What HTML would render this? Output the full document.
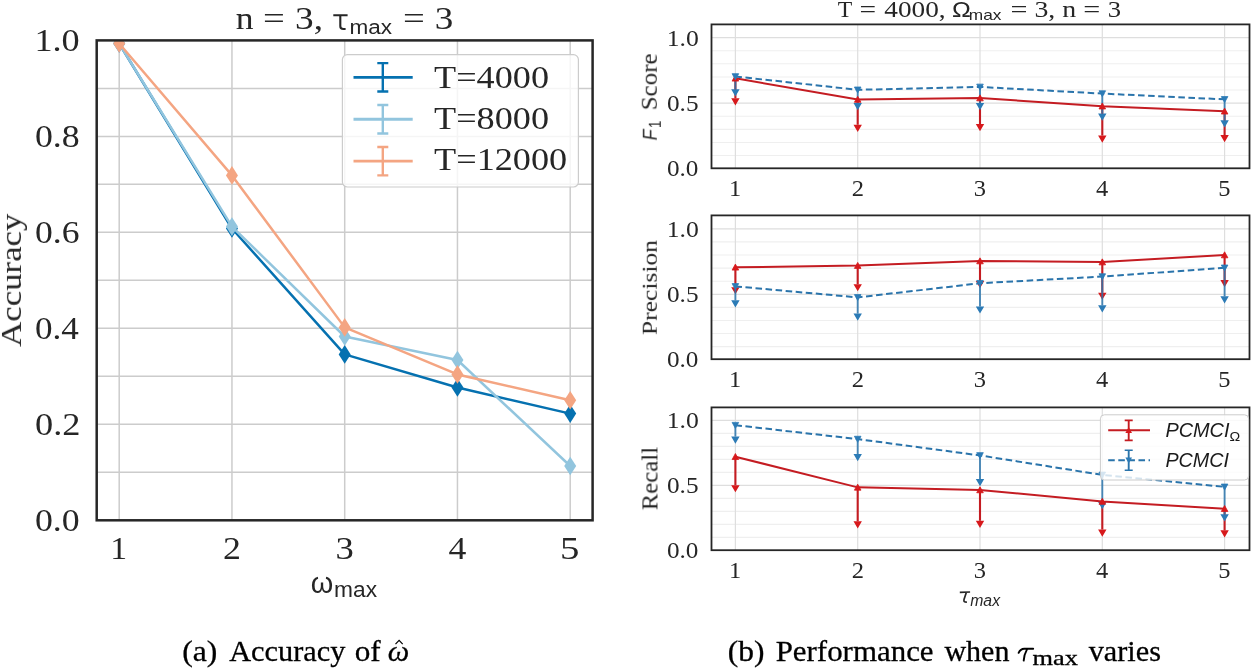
<!DOCTYPE html><html><head><meta charset="utf-8"><style>html,body{margin:0;padding:0;background:#fff;}svg{display:block;} text{will-change:transform;}</style></head><body>
<svg width="1254" height="669" viewBox="0 0 1254 669">
<rect width="1254" height="669" fill="#ffffff"/>
<defs><clipPath id="cl"><rect x="96.7" y="40.4" width="495.90000000000003" height="479.9"/></clipPath>
</defs>
<path d="M96.7,472.31H592.6M96.7,424.32H592.6M96.7,376.33H592.6M96.7,328.34H592.6M96.7,280.35H592.6M96.7,232.36H592.6M96.7,184.37H592.6M96.7,136.38H592.6M96.7,88.39H592.6M119.20,40.4V520.3M231.95,40.4V520.3M344.70,40.4V520.3M457.45,40.4V520.3M570.20,40.4V520.3" stroke="#cccccc" stroke-width="1.5" fill="none"/>
<g clip-path="url(#cl)">
<polyline points="119.20,43.52 231.95,228.52 344.70,354.40 457.45,387.51 570.20,413.62" fill="none" stroke="#0571b0" stroke-width="2.5" stroke-linejoin="round"/>
<path d="M119.20,34.22L125.20,43.52L119.20,52.82L113.20,43.52Z" fill="#0571b0"/>
<path d="M231.95,219.22L237.95,228.52L231.95,237.82L225.95,228.52Z" fill="#0571b0"/>
<path d="M344.70,345.10L350.70,354.40L344.70,363.70L338.70,354.40Z" fill="#0571b0"/>
<path d="M457.45,378.21L463.45,387.51L457.45,396.81L451.45,387.51Z" fill="#0571b0"/>
<path d="M570.20,404.32L576.20,413.62L570.20,422.92L564.20,413.62Z" fill="#0571b0"/>
<polyline points="119.20,43.52 231.95,226.60 344.70,336.50 457.45,360.01 570.20,466.02" fill="none" stroke="#92c5de" stroke-width="2.5" stroke-linejoin="round"/>
<path d="M119.20,34.22L125.20,43.52L119.20,52.82L113.20,43.52Z" fill="#92c5de"/>
<path d="M231.95,217.30L237.95,226.60L231.95,235.90L225.95,226.60Z" fill="#92c5de"/>
<path d="M344.70,327.20L350.70,336.50L344.70,345.80L338.70,336.50Z" fill="#92c5de"/>
<path d="M457.45,350.71L463.45,360.01L457.45,369.31L451.45,360.01Z" fill="#92c5de"/>
<path d="M570.20,456.72L576.20,466.02L570.20,475.32L564.20,466.02Z" fill="#92c5de"/>
<polyline points="119.20,43.52 231.95,175.40 344.70,327.38 457.45,374.41 570.20,400.18" fill="none" stroke="#f4a582" stroke-width="2.5" stroke-linejoin="round"/>
<path d="M119.20,34.22L125.20,43.52L119.20,52.82L113.20,43.52Z" fill="#f4a582"/>
<path d="M231.95,166.10L237.95,175.40L231.95,184.70L225.95,175.40Z" fill="#f4a582"/>
<path d="M344.70,318.08L350.70,327.38L344.70,336.68L338.70,327.38Z" fill="#f4a582"/>
<path d="M457.45,365.11L463.45,374.41L457.45,383.71L451.45,374.41Z" fill="#f4a582"/>
<path d="M570.20,390.88L576.20,400.18L570.20,409.48L564.20,400.18Z" fill="#f4a582"/>
</g>
<rect x="96.7" y="40.4" width="495.90" height="479.90" fill="none" stroke="#262626" stroke-width="2.5"/>
<rect x="342.4" y="54.6" width="236" height="132.4" rx="5" ry="5" fill="#ffffff" fill-opacity="0.8" stroke="#cccccc" stroke-width="1.2"/>
<path d="M353.5,77.30H412.7" stroke="#0571b0" stroke-width="2.8" fill="none"/>
<path d="M382.8,63.10V91.50M377.3,63.10H388.3M377.3,91.50H388.3" stroke="#0571b0" stroke-width="2.4" fill="none"/>
<path d="M353.5,119.25H412.7" stroke="#92c5de" stroke-width="2.8" fill="none"/>
<path d="M382.8,105.05V133.45M377.3,105.05H388.3M377.3,133.45H388.3" stroke="#92c5de" stroke-width="2.4" fill="none"/>
<path d="M353.5,161.20H412.7" stroke="#f4a582" stroke-width="2.8" fill="none"/>
<path d="M382.8,147.00V175.40M377.3,147.00H388.3M377.3,175.40H388.3" stroke="#f4a582" stroke-width="2.4" fill="none"/>
<text transform="translate(434.07,87.70) scale(1.1641,1)" style="font-family:'Liberation Serif', serif;font-size:31.11px" fill="#262626">T=4000</text>
<text transform="translate(434.07,129.00) scale(1.1641,1)" style="font-family:'Liberation Serif', serif;font-size:31.11px" fill="#262626">T=8000</text>
<text transform="translate(434.07,170.30) scale(1.1650,1)" style="font-family:'Liberation Serif', serif;font-size:31.11px" fill="#262626">T=12000</text>
<text transform="translate(34.96,530.83) scale(1.1332,1)" style="font-family:'Liberation Serif', serif;font-size:31.62px" fill="#262626">0.0</text>
<text transform="translate(34.94,434.85) scale(1.1504,1)" style="font-family:'Liberation Serif', serif;font-size:31.62px" fill="#262626">0.2</text>
<text transform="translate(34.98,338.87) scale(1.1119,1)" style="font-family:'Liberation Serif', serif;font-size:31.62px" fill="#262626">0.4</text>
<text transform="translate(34.96,242.89) scale(1.1260,1)" style="font-family:'Liberation Serif', serif;font-size:31.62px" fill="#262626">0.6</text>
<text transform="translate(34.96,146.91) scale(1.1332,1)" style="font-family:'Liberation Serif', serif;font-size:31.62px" fill="#262626">0.8</text>
<text transform="translate(34.43,50.93) scale(1.1470,1)" style="font-family:'Liberation Serif', serif;font-size:31.62px" fill="#262626">1.0</text>
<text transform="translate(110.25,559.00) scale(1.0560,1)" style="font-family:'Liberation Serif', serif;font-size:31.97px" fill="#262626">1</text>
<text transform="translate(222.88,559.00) scale(1.1233,1)" style="font-family:'Liberation Serif', serif;font-size:31.85px" fill="#262626">2</text>
<text transform="translate(335.56,558.69) scale(1.1667,1)" style="font-family:'Liberation Serif', serif;font-size:31.38px" fill="#262626">3</text>
<text transform="translate(448.49,559.00) scale(1.1124,1)" style="font-family:'Liberation Serif', serif;font-size:32.09px" fill="#262626">4</text>
<text transform="translate(559.97,558.68) scale(1.2215,1)" style="font-family:'Liberation Serif', serif;font-size:31.73px" fill="#262626">5</text>
<text transform="translate(235.70,29.10) scale(1.1253,1)" style="font-family:'Liberation Serif', serif;font-size:31.70px" fill="#262626">n</text>
<text transform="translate(263.06,29.10) scale(1.2210,1)" style="font-family:'Liberation Serif', serif;font-size:31.70px" fill="#262626">=</text>
<text transform="translate(295.03,29.10) scale(1.1779,1)" style="font-family:'Liberation Serif', serif;font-size:31.70px" fill="#262626">3,</text>
<path d="M333.3,15.3H347.6M340.3,15.3V26.3Q340.3,29 343.4,29H345.6" stroke="#262626" stroke-width="2.1" fill="none"/>
<text transform="translate(349.48,33.70) scale(1.1322,1)" style="font-family:'Liberation Sans', sans-serif;font-size:19.91px" fill="#262626">max</text>
<text transform="translate(403.06,29.10) scale(1.2210,1)" style="font-family:'Liberation Serif', serif;font-size:31.70px" fill="#262626">=</text>
<text transform="translate(434.74,29.10) scale(1.1699,1)" style="font-family:'Liberation Serif', serif;font-size:31.70px" fill="#262626">3</text>
<text transform="translate(20.96,346.75) rotate(-90) scale(1.1435,1)" style="font-family:'Liberation Serif', serif;font-size:30.40px" fill="#262626">Accuracy</text>
<text transform="translate(310.75,592.91) scale(0.9813,1)" style="font-family:'Liberation Sans', sans-serif;font-size:29.41px" fill="#262626">ω</text>
<text transform="translate(334.06,597.29) scale(1.0743,1)" style="font-family:'Liberation Sans', sans-serif;font-size:21.19px" fill="#262626">max</text>
<path d="M711.5,155.54H1249.5M711.5,142.44H1249.5M711.5,129.33H1249.5M711.5,116.23H1249.5M711.5,90.03H1249.5M711.5,76.93H1249.5M711.5,63.82H1249.5M711.5,50.72H1249.5" stroke="#efefef" stroke-width="1.1" fill="none"/>
<path d="M711.5,103.13H1249.5M711.5,37.62H1249.5M735.40,24.4V168.3M857.70,24.4V168.3M980.00,24.4V168.3M1102.30,24.4V168.3M1224.60,24.4V168.3" stroke="#dedede" stroke-width="1.2" fill="none"/>
<path d="M735.40,78.30V98.18M857.70,99.49V124.87M980.00,98.05V123.95M1102.30,106.16V135.46M1224.60,111.26V134.94" stroke="#c41c22" stroke-width="2.1" stroke-opacity="1" fill="none"/>
<path d="M731.20,98.18H739.60L735.40,105.38ZM853.50,124.87H861.90L857.70,132.07ZM975.80,123.95H984.20L980.00,131.15ZM1098.10,135.46H1106.50L1102.30,142.66ZM1220.40,134.94H1228.80L1224.60,142.14Z" fill="#d7191c"/>
<path d="M735.40,76.47V89.29M857.70,89.81V103.02M980.00,86.93V103.02M1102.30,93.60V113.49M1224.60,99.36V120.29" stroke="#2a74ab" stroke-width="1.9" stroke-opacity="0.85" fill="none"/>
<path d="M731.20,89.29H739.60L735.40,96.49ZM853.50,103.02H861.90L857.70,110.22ZM975.80,103.02H984.20L980.00,110.22ZM1098.10,113.49H1106.50L1102.30,120.69ZM1220.40,120.29H1228.80L1224.60,127.49Z" fill="#2c7bb6"/>
<polyline points="735.40,78.30 857.70,99.49 980.00,98.05 1102.30,106.16 1224.60,111.26" fill="none" stroke="#c41c22" stroke-width="2"/>
<path d="M735.40,75.10L738.70,81.10H732.10ZM857.70,96.29L861.00,102.29H854.40ZM980.00,94.85L983.30,100.85H976.70ZM1102.30,102.96L1105.60,108.96H1099.00ZM1224.60,108.06L1227.90,114.06H1221.30Z" fill="#d7191c" stroke="#d7191c" stroke-width="0.8"/>
<polyline points="735.40,76.47 857.70,89.81 980.00,86.93 1102.30,93.60 1224.60,99.36" fill="none" stroke="#2a74ab" stroke-width="2" stroke-dasharray="6.56 3.53"/>
<path d="M735.40,79.67L738.70,73.67H732.10ZM857.70,93.01L861.00,87.01H854.40ZM980.00,90.13L983.30,84.13H976.70ZM1102.30,96.80L1105.60,90.80H1099.00ZM1224.60,102.56L1227.90,96.56H1221.30Z" fill="#2c7bb6" stroke="#2c7bb6" stroke-width="0.8"/>
<rect x="711.5" y="24.4" width="538.00" height="143.90" fill="none" stroke="#262626" stroke-width="1.8"/>
<text transform="translate(666.96,176.16) scale(1.1196,1)" style="font-family:'Liberation Serif', serif;font-size:22.50px" fill="#262626">0.0</text>
<text transform="translate(666.95,110.75) scale(1.1220,1)" style="font-family:'Liberation Serif', serif;font-size:22.50px" fill="#262626">0.5</text>
<text transform="translate(666.75,45.54) scale(1.1126,1)" style="font-family:'Liberation Serif', serif;font-size:23.09px" fill="#262626">1.0</text>
<text transform="translate(728.94,196.10) scale(1.0800,1)" style="font-family:'Liberation Serif', serif;font-size:22.67px" fill="#262626">1</text>
<text transform="translate(851.73,196.10) scale(1.0800,1)" style="font-family:'Liberation Serif', serif;font-size:22.67px" fill="#262626">2</text>
<text transform="translate(973.79,196.10) scale(1.0800,1)" style="font-family:'Liberation Serif', serif;font-size:22.67px" fill="#262626">3</text>
<text transform="translate(1096.12,196.10) scale(1.0800,1)" style="font-family:'Liberation Serif', serif;font-size:22.67px" fill="#262626">4</text>
<text transform="translate(1218.27,196.10) scale(1.0800,1)" style="font-family:'Liberation Serif', serif;font-size:22.67px" fill="#262626">5</text>
<path d="M711.5,346.64H1249.5M711.5,333.55H1249.5M711.5,320.46H1249.5M711.5,307.37H1249.5M711.5,281.18H1249.5M711.5,268.09H1249.5M711.5,255.00H1249.5M711.5,241.91H1249.5" stroke="#efefef" stroke-width="1.1" fill="none"/>
<path d="M711.5,294.28H1249.5M711.5,228.82H1249.5M735.40,215.4V359.2M857.70,215.4V359.2M980.00,215.4V359.2M1102.30,215.4V359.2M1224.60,215.4V359.2" stroke="#dedede" stroke-width="1.2" fill="none"/>
<path d="M735.40,267.30V287.17M857.70,265.60V284.16M980.00,261.02V281.03M1102.30,262.07V292.66M1224.60,255.01V280.11" stroke="#c41c22" stroke-width="2.1" stroke-opacity="1" fill="none"/>
<path d="M731.20,287.17H739.60L735.40,294.37ZM853.50,284.16H861.90L857.70,291.36ZM975.80,281.03H984.20L980.00,288.23ZM1098.10,292.66H1106.50L1102.30,299.86ZM1220.40,280.11H1228.80L1224.60,287.31Z" fill="#d7191c"/>
<path d="M735.40,286.38V300.24M857.70,297.37V313.45M980.00,283.25V306.39M1102.30,276.58V305.21M1224.60,267.82V296.19" stroke="#2a74ab" stroke-width="1.9" stroke-opacity="0.85" fill="none"/>
<path d="M731.20,300.24H739.60L735.40,307.44ZM853.50,313.45H861.90L857.70,320.65ZM975.80,306.39H984.20L980.00,313.59ZM1098.10,305.21H1106.50L1102.30,312.41ZM1220.40,296.19H1228.80L1224.60,303.39Z" fill="#2c7bb6"/>
<polyline points="735.40,267.30 857.70,265.60 980.00,261.02 1102.30,262.07 1224.60,255.01" fill="none" stroke="#c41c22" stroke-width="2"/>
<path d="M735.40,264.10L738.70,270.10H732.10ZM857.70,262.40L861.00,268.40H854.40ZM980.00,257.82L983.30,263.82H976.70ZM1102.30,258.87L1105.60,264.87H1099.00ZM1224.60,251.81L1227.90,257.81H1221.30Z" fill="#d7191c" stroke="#d7191c" stroke-width="0.8"/>
<polyline points="735.40,286.38 857.70,297.37 980.00,283.25 1102.30,276.58 1224.60,267.82" fill="none" stroke="#2a74ab" stroke-width="2" stroke-dasharray="6.56 3.53"/>
<path d="M735.40,289.58L738.70,283.58H732.10ZM857.70,300.57L861.00,294.57H854.40ZM980.00,286.45L983.30,280.45H976.70ZM1102.30,279.78L1105.60,273.78H1099.00ZM1224.60,271.02L1227.90,265.02H1221.30Z" fill="#2c7bb6" stroke="#2c7bb6" stroke-width="0.8"/>
<rect x="711.5" y="215.4" width="538.00" height="143.80" fill="none" stroke="#262626" stroke-width="1.8"/>
<text transform="translate(666.96,367.06) scale(1.1196,1)" style="font-family:'Liberation Serif', serif;font-size:22.50px" fill="#262626">0.0</text>
<text transform="translate(666.95,301.70) scale(1.1220,1)" style="font-family:'Liberation Serif', serif;font-size:22.50px" fill="#262626">0.5</text>
<text transform="translate(666.75,236.53) scale(1.1126,1)" style="font-family:'Liberation Serif', serif;font-size:23.09px" fill="#262626">1.0</text>
<text transform="translate(728.94,387.00) scale(1.0800,1)" style="font-family:'Liberation Serif', serif;font-size:22.67px" fill="#262626">1</text>
<text transform="translate(851.73,387.00) scale(1.0800,1)" style="font-family:'Liberation Serif', serif;font-size:22.67px" fill="#262626">2</text>
<text transform="translate(973.79,387.00) scale(1.0800,1)" style="font-family:'Liberation Serif', serif;font-size:22.67px" fill="#262626">3</text>
<text transform="translate(1096.12,387.00) scale(1.0800,1)" style="font-family:'Liberation Serif', serif;font-size:22.67px" fill="#262626">4</text>
<text transform="translate(1218.27,387.00) scale(1.0800,1)" style="font-family:'Liberation Serif', serif;font-size:22.67px" fill="#262626">5</text>
<path d="M711.5,537.38H1249.5M711.5,524.38H1249.5M711.5,511.38H1249.5M711.5,498.37H1249.5M711.5,472.36H1249.5M711.5,459.36H1249.5M711.5,446.35H1249.5M711.5,433.34H1249.5" stroke="#efefef" stroke-width="1.1" fill="none"/>
<path d="M711.5,485.37H1249.5M711.5,420.34H1249.5M735.40,407.4V550.2M857.70,407.4V550.2M980.00,407.4V550.2M1102.30,407.4V550.2M1224.60,407.4V550.2" stroke="#dedede" stroke-width="1.2" fill="none"/>
<path d="M735.40,456.73V485.16M857.70,487.37V521.25M980.00,489.96V520.73M1102.30,501.52V529.56M1224.60,508.66V530.34" stroke="#c41c22" stroke-width="2.1" stroke-opacity="1" fill="none"/>
<path d="M731.20,485.16H739.60L735.40,492.36ZM853.50,521.25H861.90L857.70,528.45ZM975.80,520.73H984.20L980.00,527.93ZM1098.10,529.56H1106.50L1102.30,536.76ZM1220.40,530.34H1228.80L1224.60,537.54Z" fill="#d7191c"/>
<path d="M735.40,425.19V436.48M857.70,439.08V454.00M980.00,455.43V478.93M1102.30,474.91V502.04M1224.60,486.85V514.24" stroke="#2a74ab" stroke-width="1.9" stroke-opacity="0.85" fill="none"/>
<path d="M731.20,436.48H739.60L735.40,443.68ZM853.50,454.00H861.90L857.70,461.20ZM975.80,478.93H984.20L980.00,486.13ZM1098.10,502.04H1106.50L1102.30,509.24ZM1220.40,514.24H1228.80L1224.60,521.44Z" fill="#2c7bb6"/>
<polyline points="735.40,456.73 857.70,487.37 980.00,489.96 1102.30,501.52 1224.60,508.66" fill="none" stroke="#c41c22" stroke-width="2"/>
<path d="M735.40,453.53L738.70,459.53H732.10ZM857.70,484.17L861.00,490.17H854.40ZM980.00,486.76L983.30,492.76H976.70ZM1102.30,498.32L1105.60,504.32H1099.00ZM1224.60,505.46L1227.90,511.46H1221.30Z" fill="#d7191c" stroke="#d7191c" stroke-width="0.8"/>
<polyline points="735.40,425.19 857.70,439.08 980.00,455.43 1102.30,474.91 1224.60,486.85" fill="none" stroke="#2a74ab" stroke-width="2" stroke-dasharray="6.56 3.53"/>
<path d="M735.40,428.39L738.70,422.39H732.10ZM857.70,442.28L861.00,436.28H854.40ZM980.00,458.63L983.30,452.63H976.70ZM1102.30,478.11L1105.60,472.11H1099.00ZM1224.60,490.05L1227.90,484.05H1221.30Z" fill="#2c7bb6" stroke="#2c7bb6" stroke-width="0.8"/>
<rect x="711.5" y="407.4" width="538.00" height="142.80" fill="none" stroke="#262626" stroke-width="1.8"/>
<text transform="translate(666.96,558.06) scale(1.1196,1)" style="font-family:'Liberation Serif', serif;font-size:22.50px" fill="#262626">0.0</text>
<text transform="translate(666.95,493.15) scale(1.1220,1)" style="font-family:'Liberation Serif', serif;font-size:22.50px" fill="#262626">0.5</text>
<text transform="translate(666.75,428.44) scale(1.1126,1)" style="font-family:'Liberation Serif', serif;font-size:23.09px" fill="#262626">1.0</text>
<text transform="translate(728.94,578.00) scale(1.0800,1)" style="font-family:'Liberation Serif', serif;font-size:22.67px" fill="#262626">1</text>
<text transform="translate(851.73,578.00) scale(1.0800,1)" style="font-family:'Liberation Serif', serif;font-size:22.67px" fill="#262626">2</text>
<text transform="translate(973.79,578.00) scale(1.0800,1)" style="font-family:'Liberation Serif', serif;font-size:22.67px" fill="#262626">3</text>
<text transform="translate(1096.12,578.00) scale(1.0800,1)" style="font-family:'Liberation Serif', serif;font-size:22.67px" fill="#262626">4</text>
<text transform="translate(1218.27,578.00) scale(1.0800,1)" style="font-family:'Liberation Serif', serif;font-size:22.67px" fill="#262626">5</text>
<rect x="1100.4" y="414.8" width="148.2" height="65.2" rx="4" ry="4" fill="#ffffff" fill-opacity="0.8" stroke="#cccccc" stroke-width="1"/>
<path d="M1108.2,430.30H1150" stroke="#c41c22" stroke-width="2" fill="none"/>
<path d="M1128.7,420.40V440.40" stroke="#c41c22" stroke-width="1.9" fill="none"/>
<path d="M1124.7,420.40H1132.7M1124.7,440.40H1132.7" stroke="#c41c22" stroke-width="1.6" fill="none"/>
<path d="M1128.7,427.10L1132.00,433.10H1125.40Z" fill="#d7191c"/>
<path d="M1108.2,460.20H1150" stroke="#2a74ab" stroke-width="2" fill="none" stroke-dasharray="6.56 3.53"/>
<path d="M1128.7,450.30V470.30" stroke="#2a74ab" stroke-width="1.9" fill="none"/>
<path d="M1124.7,450.30H1132.7M1124.7,470.30H1132.7" stroke="#2a74ab" stroke-width="1.6" fill="none"/>
<path d="M1128.7,463.40L1132.00,457.40H1125.40Z" fill="#2c7bb6"/>
<text transform="translate(1165.40,437.30) scale(0.9856,1)" style="font-family:'Liberation Sans', sans-serif;font-style:italic;font-size:20.21px" fill="#1a1a1a">PCMCI</text>
<text transform="translate(1229.39,440.50) scale(1.1907,1)" style="font-family:'Liberation Sans', sans-serif;font-size:12.04px" fill="#1a1a1a">Ω</text>
<text transform="translate(1165.41,466.60) scale(1.0117,1)" style="font-family:'Liberation Sans', sans-serif;font-style:italic;font-size:19.51px" fill="#1a1a1a">PCMCI</text>
<text transform="translate(837.78,16.60) scale(1.0265,1)" style="font-family:'Liberation Serif', serif;font-size:23.11px" fill="#262626">T</text>
<text transform="translate(859.43,16.60) scale(1.2748,1)" style="font-family:'Liberation Serif', serif;font-size:23.11px" fill="#262626">=</text>
<text transform="translate(884.25,16.60) scale(1.1818,1)" style="font-family:'Liberation Serif', serif;font-size:23.11px" fill="#262626">4000,</text>
<text transform="translate(951.93,16.60) scale(1.1728,1)" style="font-family:'Liberation Sans', sans-serif;font-size:21.49px" fill="#262626">Ω</text>
<text transform="translate(968.83,19.85) scale(1.1689,1)" style="font-family:'Liberation Sans', sans-serif;font-size:14.79px" fill="#262626">max</text>
<text transform="translate(1010.49,16.60) scale(1.3027,1)" style="font-family:'Liberation Serif', serif;font-size:23.11px" fill="#262626">=</text>
<text transform="translate(1034.38,16.60) scale(1.2034,1)" style="font-family:'Liberation Serif', serif;font-size:23.11px" fill="#262626">3,</text>
<text transform="translate(1062.37,16.60) scale(1.2069,1)" style="font-family:'Liberation Serif', serif;font-size:23.11px" fill="#262626">n</text>
<text transform="translate(1083.29,16.60) scale(1.3027,1)" style="font-family:'Liberation Serif', serif;font-size:23.11px" fill="#262626">=</text>
<text transform="translate(1107.73,16.60) scale(1.1538,1)" style="font-family:'Liberation Serif', serif;font-size:23.11px" fill="#262626">3</text>
<text transform="translate(656.78,110.28) rotate(-90) scale(1.1247,1)" style="font-family:'Liberation Serif', serif;font-size:22.16px" fill="#262626">Score</text>
<text transform="translate(656.80,140.34) rotate(-90) scale(0.8581,1)" style="font-family:'Liberation Sans', sans-serif;font-style:italic;font-size:20.80px" fill="#262626">F</text>
<text transform="translate(660.80,127.99) rotate(-90) scale(0.8390,1)" style="font-family:'Liberation Sans', sans-serif;font-size:15.71px" fill="#262626">1</text>
<text transform="translate(656.78,335.10) rotate(-90) scale(1.1698,1)" style="font-family:'Liberation Serif', serif;font-size:21.86px" fill="#262626">Precision</text>
<text transform="translate(657.47,510.28) rotate(-90) scale(1.0862,1)" style="font-family:'Liberation Serif', serif;font-size:22.84px" fill="#262626">Recall</text>
<path d="M959.8,592.3L970.1,592M966.4,592.3L964,599.6Q963.3,602.3 966.9,602.2" stroke="#262626" stroke-width="1.7" fill="none"/>
<text transform="translate(970.22,605.94) scale(0.9713,1)" style="font-family:'Liberation Sans', sans-serif;font-style:italic;font-size:16.26px" fill="#262626">max</text>
<text transform="translate(182.25,661.30) scale(1.0430,1)" style="font-family:'Liberation Serif', serif;font-size:30.40px" fill="#000000" stroke="#000" stroke-width="0.3">(a)</text>
<text transform="translate(229.20,661.30) scale(0.9978,1)" style="font-family:'Liberation Serif', serif;font-size:30.40px" fill="#000000" stroke="#000" stroke-width="0.3">Accuracy</text>
<text transform="translate(354.73,661.30) scale(1.0262,1)" style="font-family:'Liberation Serif', serif;font-size:30.40px" fill="#000000" stroke="#000" stroke-width="0.3">of</text>
<text transform="translate(387.81,661.30) scale(1.0025,1)" style="font-family:'Liberation Serif', serif;font-style:italic;font-size:30.40px" fill="#000000" stroke="#000" stroke-width="0.3">ω</text>
<path d="M395.5,644.2L399.1,640.4L402.7,644.2" stroke="#000" stroke-width="1.2" fill="none"/>
<text transform="translate(727.66,660.90) scale(1.0356,1)" style="font-family:'Liberation Serif', serif;font-size:30.40px" fill="#000000" stroke="#000" stroke-width="0.3">(b)</text>
<text transform="translate(775.65,660.90) scale(1.0173,1)" style="font-family:'Liberation Serif', serif;font-size:30.40px" fill="#000000" stroke="#000" stroke-width="0.3">Performance</text>
<text transform="translate(944.40,660.90) scale(0.9884,1)" style="font-family:'Liberation Serif', serif;font-size:30.40px" fill="#000000" stroke="#000" stroke-width="0.3">when</text>
<path d="M1018.6,652.8Q1020.6,648.7 1024.2,648.7H1033.2M1027.2,648.9Q1023.9,655 1023.7,660.6" stroke="#000" stroke-width="1.9" fill="none" stroke-linecap="round"/>
<text transform="translate(1032.47,664.69) scale(1.2795,1)" style="font-family:'Liberation Serif', serif;font-size:20.62px" fill="#000000" stroke="#000" stroke-width="0.3">max</text>
<text transform="translate(1088.70,660.90) scale(0.9966,1)" style="font-family:'Liberation Serif', serif;font-size:30.40px" fill="#000000" stroke="#000" stroke-width="0.3">varies</text>
</svg></body></html>
